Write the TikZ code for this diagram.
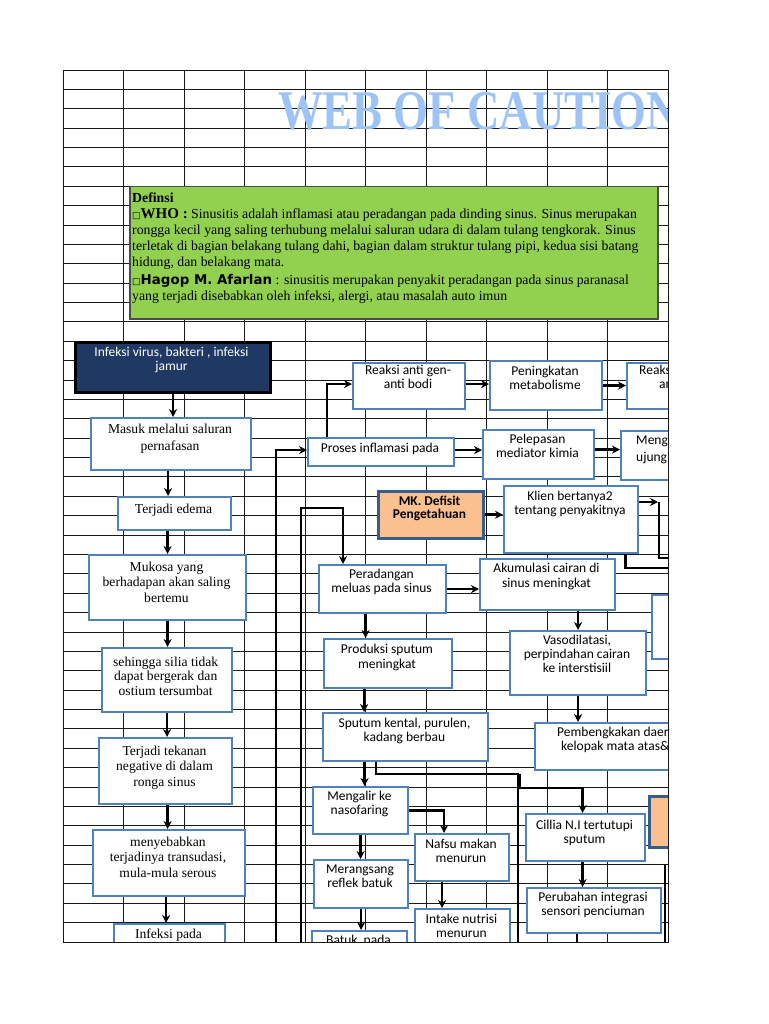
\documentclass[tikz,border=0pt]{standalone}
\usepackage{fontspec}
\setmainfont{Liberation Serif}
\newfontfamily\calibri{Carlito}
\newfontfamily\verdana{DejaVu Sans}
\usetikzlibrary{arrows.meta,calc}
\definecolor{boxblue}{RGB}{79,129,189}
\definecolor{navy}{RGB}{31,56,100}
\definecolor{peach}{RGB}{250,192,144}
\definecolor{slate}{RGB}{56,93,138}
\definecolor{leaf}{RGB}{146,208,80}
\definecolor{sky}{RGB}{157,195,247}
% lines of a box text, baseline on the first line
\newcommand{\teks}[1]{\begin{tabular}[t]{@{}c@{}}#1\end{tabular}}
\newcommand{\tekskiri}[1]{\begin{tabular}[t]{@{}l@{}}#1\end{tabular}}
\tikzset{grid line/.style={black!90, line width=0.9pt},
  lbox/.style={draw=boxblue, fill=white, line width=2.2pt, inner sep=0pt, anchor=north west},
  ltext/.style={font=\fontsize{13.6}{15.5}\selectfont, inner sep=0pt, anchor=base},
  rbox/.style={draw=boxblue, fill=white, line width=2.2pt, inner sep=0pt, anchor=north west},
  rtext/.style={font=\calibri\fontsize{13.5}{14.2}\selectfont, inner sep=0pt, anchor=base},
  darkbox/.style={draw=black, fill=navy, line width=3pt, inner sep=0pt, anchor=north west},
  mkbox/.style={draw=slate, fill=peach, line width=2.5pt, inner sep=0pt, anchor=north west},
  mktext/.style={rtext, font=\calibri\bfseries\fontsize{13.4}{13.6}\selectfont},
  defbox/.style={draw=black!70, fill=leaf, line width=1.5pt, inner sep=0pt, anchor=north west},
  conn/.style={->, >={Stealth[length=8pt,width=8pt]}, line width=2.6pt},
  link/.style={line width=2.6pt}
}
\begin{document}
\begin{tikzpicture}[x=1pt,y=-1pt]
  \useasboundingbox (0,0) rectangle (768,1024);
  \begin{scope}
  \clip (63,70) rectangle (668,942);
  % -- The sheet grid.
  \foreach \r in {0,...,45}
    \draw[grid line] (63,{70+19.378*\r}) -- (668,{70+19.378*\r});
  \foreach \c in {0,...,10}
    \draw[grid line] ({63+60.5*\c},70) -- ({63+60.5*\c},942);

  % -- Title and definition.
  \node[font=\fontsize{56}{56}\selectfont\bfseries, text=sky, anchor=base west, inner sep=0pt, xscale=0.8] (judul) at (278,130) {WEB OF CAUTION};
  \node[defbox, minimum width=528, minimum height=132] (definisi) at (129,186) {};
  \node[font=\fontsize{13.8}{16}\selectfont, anchor=base west, inner sep=0pt] (definisi-t) at (132,203) {\tekskiri{\textbf{Definsi}\\
    {\verdana\fontsize{9}{9}\selectfont □}{\fontsize{15}{16}\selectfont\textbf{WHO :}} Sinusitis adalah inflamasi atau peradangan pada dinding sinus. Sinus merupakan\\
    rongga kecil yang saling terhubung melalui saluran udara di dalam tulang tengkorak. Sinus\\
    terletak di bagian belakang tulang dahi, bagian dalam struktur tulang pipi, kedua sisi batang\\
    hidung, dan belakang mata.\\[2pt]
    {\verdana\fontsize{9}{9}\selectfont □}{\verdana\bfseries\fontsize{13.4}{16}\selectfont Hagop M. Afarlan} : sinusitis merupakan penyakit peradangan pada sinus paranasal\\
    yang terjadi disebabkan oleh infeksi, alergi, atau masalah auto imun}};

  % -- Left chain.
  \node[darkbox, minimum width=195, minimum height=50] (infeksi) at (74,341) {};
  \node[rtext, text=white] (infeksi-t) at (171.5,356) {\teks{Infeksi virus, bakteri , infeksi\\jamur}};
  \node[lbox, minimum width=160, minimum height=52] (masuk) at (90,417) {};
  \node[ltext] (masuk-t) at (170,433) {\teks{Masuk melalui saluran\\[1.5pt]pernafasan}};
  \node[lbox, minimum width=113, minimum height=33] (edema) at (117,496) {};
  \node[ltext] (edema-t) at (173.5,513) {Terjadi edema};
  \node[lbox, minimum width=157, minimum height=65] (mukosa) at (88,554) {};
  \node[ltext] (mukosa-t) at (166.5,571) {\teks{Mukosa yang\\berhadapan akan saling\\bertemu}};
  \node[lbox, minimum width=130, minimum height=64] (sehingga) at (101,647) {};
  \node[ltext] (sehingga-t) at (165.7,666) {\teks{sehingga silia tidak\\[-1pt]dapat bergerak dan\\[-1pt]ostium tersumbat}};
  \node[lbox, minimum width=133, minimum height=66] (tekanan) at (98,737) {};
  \node[ltext] (tekanan-t) at (164.5,755) {\teks{Terjadi tekanan\\negative di dalam\\ronga sinus}};
  \node[lbox, minimum width=152, minimum height=66] (menyebabkan) at (92,829) {};
  \node[ltext] (menyebabkan-t) at (168,846) {\teks{menyebabkan\\terjadinya transudasi,\\mula-mula serous}};
  \node[lbox, minimum width=111, minimum height=40] (infeksipada) at (113,923) {};
  \node[ltext] (infeksipada-t) at (168.5,938) {Infeksi pada};

  % -- Middle and right boxes.
  \node[rbox, minimum width=112, minimum height=46] (reaksi) at (352,362) {};
  \node[rtext] (reaksi-t) at (408,374) {\teks{Reaksi anti gen-\\anti bodi}};
  \node[rbox, minimum width=112, minimum height=49] (peningkatan) at (489,360) {};
  \node[rtext] (peningkatan-t) at (545,375) {\teks{Peningkatan\\metabolisme}};
  \node[rbox, minimum width=120, minimum height=46] (reaksi2) at (626,362) {};
  \node[rtext, anchor=base west] (reaksi2-t) at (639,374) {\tekskiri{Reaksi\\\hspace*{20pt}an}};
  \node[rbox, minimum width=146, minimum height=28] (proses) at (307,437) {};
  \node[rtext] (proses-t) at (380,452) {Proses inflamasi pada};
  \node[rbox, minimum width=111, minimum height=49] (pelepasan) at (482,429) {};
  \node[rtext] (pelepasan-t) at (537.5,443) {\teks{Pelepasan\\mediator kimia}};
  \node[rbox, minimum width=120, minimum height=49] (meng) at (620,430) {};
  \node[rtext, anchor=base west] (meng-t) at (636,444) {\tekskiri{Meng\\[3pt]ujung}};
  \node[mkbox, minimum width=105, minimum height=47] (mk) at (377,490) {};
  \node[mktext] (mk-t) at (429.5,505) {\teks{MK. Defisit\\Pengetahuan}};
  \node[rbox, minimum width=134, minimum height=67] (klien) at (503,485) {};
  \node[rtext] (klien-t) at (570,500) {\teks{Klien bertanya2\\tentang penyakitnya}};
  \node[rbox, minimum width=127, minimum height=48] (peradangan) at (318,564) {};
  \node[rtext] (peradangan-t) at (381.5,578) {\teks{Peradangan\\meluas pada sinus}};
  \node[rbox, minimum width=135, minimum height=51] (akumulasi) at (479,558) {};
  \node[rtext] (akumulasi-t) at (546.5,572) {\teks{Akumulasi cairan di\\[1pt]sinus meningkat}};
  \node[rbox, minimum width=60, minimum height=64] (sisi) at (651,594) {};
  \node[rbox, minimum width=128, minimum height=49] (produksi) at (323,638) {};
  \node[rtext] (produksi-t) at (387,653) {\teks{Produksi sputum\\[1pt]meningkat}};
  \node[rbox, minimum width=136, minimum height=64] (vasodilatasi) at (509,630) {};
  \node[rtext] (vasodilatasi-t) at (577,644) {\teks{Vasodilatasi,\\perpindahan cairan\\ke interstisiil}};
  \node[rbox, minimum width=165, minimum height=48] (sputum) at (322,712) {};
  \node[rtext] (sputum-t) at (404.5,727) {\teks{Sputum kental, purulen,\\kadang berbau}};
  \node[rbox, minimum width=150, minimum height=47] (pembengkakan) at (534,722) {};
  \node[rtext, anchor=base west] (pembengkakan-t) at (557,736) {\tekskiri{Pembengkakan daerah\\\hspace*{4pt}kelopak mata atas\&bawah}};
  \node[rbox, minimum width=95, minimum height=47] (mengalir) at (312,786) {};
  \node[rtext] (mengalir-t) at (359.5,800) {\teks{Mengalir ke\\nasofaring}};
  \node[rbox, minimum width=94, minimum height=47] (nafsu) at (414,833) {};
  \node[rtext] (nafsu-t) at (461,848) {\teks{Nafsu makan\\menurun}};
  \node[rbox, minimum width=94, minimum height=48] (merangsang) at (313,859) {};
  \node[rtext] (merangsang-t) at (360,873) {\teks{Merangsang\\reflek batuk}};
  \node[rbox, minimum width=95, minimum height=50] (intake) at (414,908) {};
  \node[rtext] (intake-t) at (461.5,923) {\teks{Intake nutrisi\\menurun}};
  \node[rbox, minimum width=95, minimum height=50] (batuk) at (311,930) {};
  \node[rtext] (batuk-t) at (358.5,944) {Batuk\ \ pada};
  \node[rbox, minimum width=119, minimum height=47] (cillia) at (525,813) {};
  \node[rtext] (cillia-t) at (584.5,829) {\teks{Cillia N.I tertutupi\\sputum}};
  \node[rbox, minimum width=134, minimum height=45] (perubahan) at (526,887) {};
  \node[rtext] (perubahan-t) at (593,901) {\teks{Perubahan integrasi\\sensori penciuman}};
  \node[mkbox, minimum width=60, minimum height=51] (oranye) at (648,795) {};

  % -- Connectors of the left chain.
  \draw[conn] (infeksi.south) -- (infeksi.south |- masuk.north);
  \draw[conn] ([xshift=-3pt]masuk.south) -- ([xshift=-3pt]masuk.south |- edema.north);
  \draw[conn] (mukosa.north |- edema.south) -- (mukosa.north);
  \draw[conn] (mukosa.south) -- (mukosa.south |- sehingga.north);
  \draw[conn] (sehingga.south) -- (sehingga.south |- tekanan.north);
  \draw[conn] ([xshift=2pt]tekanan.south) -- ([xshift=2pt]tekanan.south |- menyebabkan.north);
  \draw[conn] ([xshift=-3pt]menyebabkan.south) -- ([xshift=-3pt]menyebabkan.south |- infeksipada.north);

  % -- Long lines coming up from below.
  \coordinate (kaki1) at (276,950);
  \coordinate (kaki2) at (301,950);
  \coordinate (tekuk2) at (343,508);
  \draw[conn] (kaki1) |- ([yshift=2pt]proses.west);
  \draw[conn] (kaki2) |- (tekuk2) -- (tekuk2 |- peradangan.north);

  % -- Connectors of the middle part.
  \draw[conn] ([xshift=-54pt]proses.north) |- ([yshift=2pt]reaksi.west);
  \draw[conn] ([yshift=2pt]reaksi.east) -- ([yshift=2pt]reaksi.east -| peningkatan.west);
  \draw[conn] (peningkatan.east) -- (peningkatan.east -| reaksi2.west);
  \draw[conn] ([yshift=2pt]proses.east) -- ([yshift=2pt]proses.east -| pelepasan.west);
  \draw[conn] ([yshift=5pt]pelepasan.east) -- ([yshift=5pt]pelepasan.east -| meng.west);
  \draw[conn] (mk.east) -- (mk.east -| klien.west);
  \coordinate (ujung1) at (658,502);
  \coordinate (ujung2) at (680,558);
  \coordinate (ujung3) at (680,568);
  \draw[conn] (klien.east |- ujung1) -- (ujung1);
  \draw[link] ([xshift=1pt]ujung1) |- (ujung2);
  \draw[link] ([xshift=-14pt]klien.south east) |- (ujung3);
  \draw[conn] (peradangan.east) -- (peradangan.east -| akumulasi.west);
  \draw[conn] (vasodilatasi.north |- akumulasi.south) -- (vasodilatasi.north);
  \draw[conn] (vasodilatasi.south) -- (vasodilatasi.south |- pembengkakan.north);
  \draw[conn] ([xshift=-17pt]peradangan.south) -- ([xshift=-17pt]peradangan.south |- produksi.north);
  \draw[conn] ([xshift=-24pt]produksi.south) -- ([xshift=-24pt]produksi.south |- sputum.north);
  \draw[conn] ([xshift=4pt]mengalir.north |- sputum.south) -- ([xshift=4pt]mengalir.north);
  \coordinate (simpang) at (518,774);
  \coordinate (kaki3) at (518,950);
  \draw[link] ([xshift=-29.5pt]sputum.south) |- (simpang) -- (kaki3);
  \draw[conn] ([xshift=2pt]simpang) -- ++(0,14) -| ([xshift=-3pt]cillia.north);
  \draw[conn] (mengalir.east) -| ([xshift=-18pt]nafsu.north);
  \draw[conn] ([xshift=-20pt]nafsu.south) -- ([xshift=-20pt]nafsu.south |- intake.north);
  \draw[conn] (mengalir.south) -- (mengalir.south |- merangsang.north);
  \draw[conn] (merangsang.south) -- (merangsang.south |- batuk.north);
  \draw[conn] ([xshift=-3pt]cillia.south) -- ([xshift=-3pt]cillia.south |- perubahan.north);
  \coordinate (kaki4) at (577,950);
  \draw[link] (perubahan.south -| kaki4) -- (kaki4);
  \coordinate (tepi1) at (665,865);
  \coordinate (tepi2) at (665,950);
  \draw[link] (tepi1) -- (tepi2);
  \end{scope}
  % -- Outer frame of the sheet.
  \draw[grid line] (63,70) rectangle (668,942);
\end{tikzpicture}
\end{document}
